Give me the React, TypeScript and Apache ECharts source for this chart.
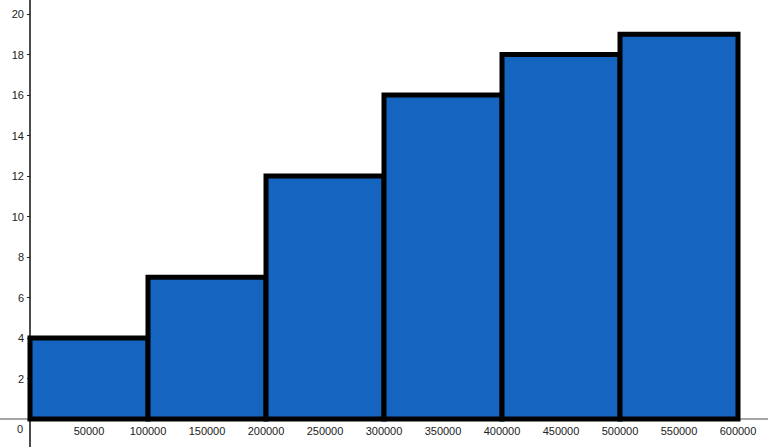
import React, { useEffect, useRef } from "react";
import * as echarts from "echarts";

const binStarts = [0, 100000, 200000, 300000, 400000, 500000];
const binEnds = [100000, 200000, 300000, 400000, 500000, 600000];
const counts = [4, 7, 12, 16, 18, 19];

export default function App() {
  const ref = useRef<HTMLDivElement>(null);
  useEffect(() => {
    document.body.style.margin = "0";
    const chart = echarts.init(ref.current!, null, { renderer: "svg" });
    const data = binStarts.map((s, i) => [s, binEnds[i], counts[i]]);
    const font = "'Liberation Sans', Arial, sans-serif";
    chart.setOption({
      animation: false,
      grid: { left: 30, right: 30, top: 14, bottom: 28, containLabel: false },
      xAxis: {
        type: "value",
        min: 0,
        max: 600000,
        interval: 50000,
        axisLine: { show: false },
        axisTick: { show: false },
        splitLine: { show: false },
        axisLabel: {
          margin: 6,
          fontSize: 11,
          color: "#222",
          fontFamily: font,
          formatter: (v: number) => (v === 0 ? "" : String(v)),
        },
      },
      yAxis: {
        type: "value",
        min: 0,
        max: 20,
        interval: 2,
        axisLine: { show: false },
        axisTick: { show: true, length: 3, lineStyle: { color: "#222" } },
        splitLine: { show: false },
        axisLabel: {
          margin: 6,
          fontSize: 11,
          color: "#222",
          fontFamily: font,
          formatter: (v: number) => (v === 0 ? "" : String(v)),
        },
      },
      series: [
        {
          type: "custom",
          z: 5,
          data,
          renderItem: (params: any, api: any) => {
            const x0 = api.value(0);
            const x1 = api.value(1);
            const y = api.value(2);
            const p0 = api.coord([x0, y]);
            const p1 = api.coord([x1, 0]);
            return {
              type: "rect",
              shape: { x: p0[0], y: p0[1], width: p1[0] - p0[0], height: p1[1] - p0[1] },
              style: { fill: "#1565c0", stroke: "#000", lineWidth: 5, lineJoin: "miter" },
            };
          },
        },
      ],
    });
    const origin = chart.convertToPixel({ gridIndex: 0 }, [0, 0]) as number[];
    const W = chart.getWidth();
    const H = chart.getHeight();
    chart.setOption({
      graphic: [
        {
          type: "line",
          z: 1,
          shape: { x1: 0, y1: origin[1], x2: W, y2: origin[1] },
          style: { stroke: "#888", lineWidth: 1.5 },
        },
        {
          type: "line",
          z: 1,
          shape: { x1: origin[0], y1: 0, x2: origin[0], y2: H },
          style: { stroke: "#111", lineWidth: 1.5 },
        },
        {
          type: "text",
          z: 1,
          x: origin[0] - 10,
          y: origin[1] + 10,
          style: {
            text: "0",
            fontSize: 11,
            fill: "#222",
            fontFamily: font,
            align: "center",
            verticalAlign: "middle",
          },
        },
      ],
    });
    return () => chart.dispose();
  }, []);
  return <div ref={ref} style={{ width: 768, height: 447 }} />;
}
